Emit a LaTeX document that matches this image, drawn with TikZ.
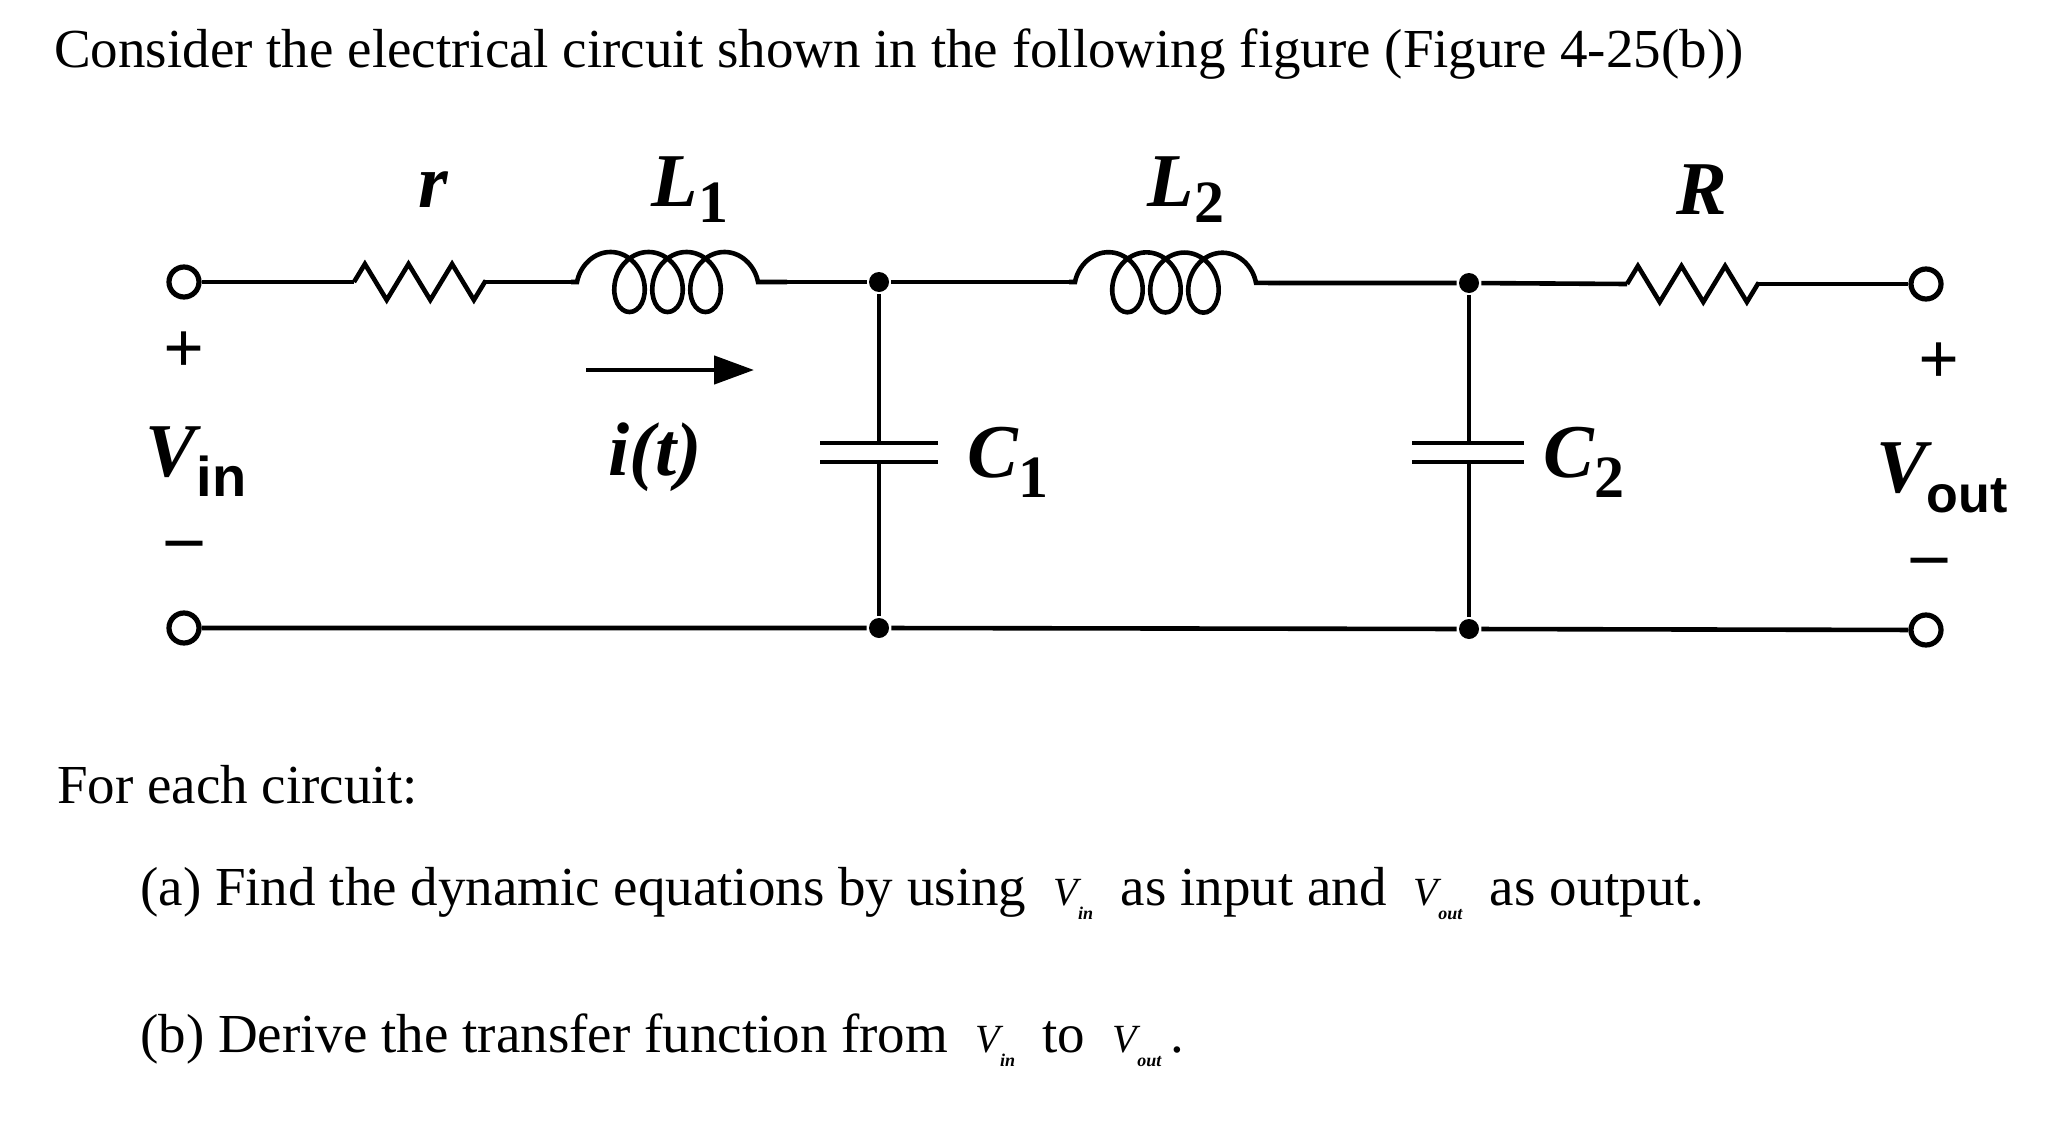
\documentclass[tikz,border=0pt]{standalone}
\usepackage{fontspec}
\setmainfont{Liberation Serif}
\newfontfamily\arialf{Liberation Sans}
\usetikzlibrary{decorations.pathmorphing,decorations.pathreplacing,arrows.meta}
\newcommand{\lbl}[1]{{\fontsize{38}{40}\selectfont\bfseries\itshape #1}}
\newcommand{\sm}[2]{{\fontsize{20}{20}\selectfont\itshape #1}\raisebox{-7pt}{\fontsize{9}{9}\selectfont\bfseries\itshape #2}}
\begin{document}
\begin{tikzpicture}[x=0.5pt,y=-0.5pt,line width=2.3pt,
  term/.style={circle,draw,line width=2.6pt,minimum size=15pt,inner sep=0pt,fill=white},
  dot/.style={circle,fill,inner sep=0pt,minimum size=10pt},
  res/.style={decorate,decoration={zigzag,segment length=21.8pt,amplitude=9pt}},
  ind/.style={decorate,decoration={coil,aspect=0.8,segment length=19pt,amplitude=15pt,pre length=3pt,post length=3pt}},
  txt/.style={anchor=base west,inner sep=0pt,font=\fontsize{27.5}{30}\selectfont}]
\useasboundingbox (0,0) rectangle (2046,1124);
\node[txt] (title) at (52,68) {Consider the electrical circuit shown in the following figure (Figure 4-25(b))};
% nodes
\node[term] (tin) at (184,282) {};
\node[term] (bin) at (184,628) {};
\node[term] (tout) at (1926,284) {};
\node[term] (bout) at (1926,630) {};
\node[dot] (n1) at (879,282) {};
\node[dot] (n2) at (1469,283) {};
\node[dot] (m1) at (879,628) {};
\node[dot] (m2) at (1469,629) {};
\coordinate (r1) at (354,282); \coordinate (r2) at (485,282);
\coordinate (a1) at (571,282); \coordinate (a2) at (787,282);
\coordinate (b1) at (1069,282); \coordinate (b2) at (1279,283);
\coordinate (R1) at (1627,284); \coordinate (R2) at (1758,284);
\coordinate (c1t) at (879,443); \coordinate (c1b) at (879,462);
\coordinate (c2t) at (1469,443); \coordinate (c2b) at (1469,462);
% top wire
\draw (tin) -- (r1);
\draw[res] (r1) -- (r2);
\draw (r2) -- (a1);
\draw[ind] (a1) -- (a2);
\draw (a2) -- (n1) -- (b1);
\draw[ind] (b1) -- (b2);
\draw (b2) -- (n2) -- (R1);
\draw[res] (R1) -- (R2);
\draw (R2) -- (tout);
\draw (bin) -- (m1) -- (m2) -- (bout);
% capacitors
\draw (n1) -- (c1t); \draw (c1b) -- (m1);
\draw (820,443) -- (938,443);
\draw (820,462) -- (938,462);
\draw (n2) -- (c2t); \draw (c2b) -- (m2);
\draw (1412,443) -- (1524,443);
\draw (1412,462) -- (1524,462);
% arrow
\coordinate (ar1) at (586,370); \coordinate (ar2) at (754,370);
\draw[-{Triangle[length=20pt,width=14pt]}] (ar1) -- (ar2);
% labels
\node (lr) at (433,190) {\lbl{r}};
\node (lL1) at (690,190) {\lbl{L}\raisebox{-8pt}{\fontsize{30}{30}\selectfont\bfseries 1}};
\node (lL2) at (1186,190) {\lbl{L}\raisebox{-8pt}{\fontsize{30}{30}\selectfont\bfseries 2}};
\node (lR) at (1702,190) {\lbl{R}};
\node (lC1) at (1008,462) {\lbl{C}\raisebox{-10pt}{\fontsize{30}{30}\selectfont\bfseries 1}};
\node (lC2) at (1584,462) {\lbl{C}\raisebox{-10pt}{\fontsize{30}{30}\selectfont\bfseries 2}};
\node (lit) at (655,457) {\lbl{i(t)}};
\node (pin) at (184,352) {\fontsize{36}{36}\selectfont\bfseries +};
\node (vin) at (196,462) {\lbl{V}\raisebox{-10pt}{\arialf\fontsize{28}{28}\selectfont\bfseries in}};
\node (min) at (184,551) {\fontsize{36}{36}\selectfont\bfseries --};
\node (pout) at (1939,363) {\fontsize{36}{36}\selectfont\bfseries +};
\node (vout) at (1942,478) {\lbl{V}\raisebox{-10pt}{\arialf\fontsize{26}{26}\selectfont\bfseries out}};
\node (mout) at (1929,568) {\fontsize{36}{36}\selectfont\bfseries --};
% question text
\node[txt] (q0) at (55,803) {For each circuit:};
\node[txt] (qa) at (138,905) {(a) Find the dynamic equations by using \ \sm{V}{in} \ as input and \ \sm{V}{out} \ as output.};
\node[txt] (qb) at (138,1052) {(b) Derive the transfer function from \ \sm{V}{in} \ to \ \sm{V}{out}\,.};
\end{tikzpicture}
\end{document}
